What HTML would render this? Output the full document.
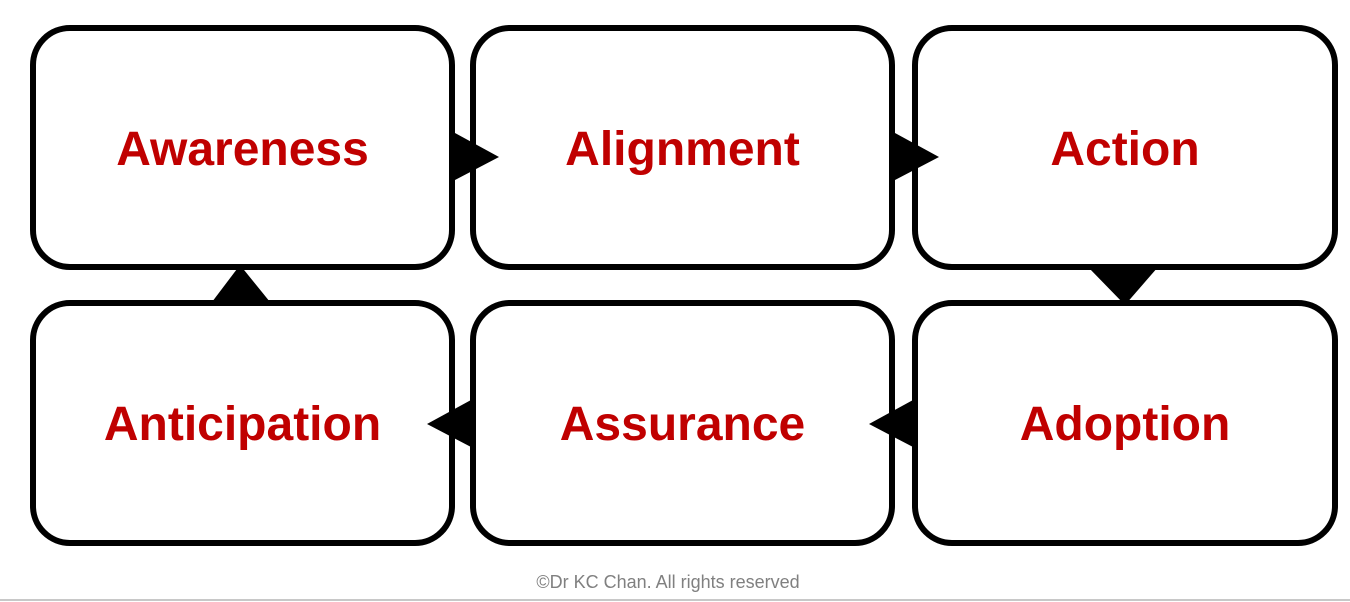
<!DOCTYPE html>
<html><head><style>
body{margin:0;width:1350px;height:602px;background:#fff;position:relative;overflow:hidden;font-family:"Liberation Sans",sans-serif}
.b{position:absolute;box-sizing:border-box;border:6px solid #000;border-radius:40px;background:#fff;display:flex;align-items:center;justify-content:center;color:#c00000;font-weight:bold;font-size:48px;padding-top:3px}
.ft{position:absolute;left:0;width:1336px;top:572px;text-align:center;color:#808080;font-size:18px}
</style></head><body>
<div class="b" style="left:30px;top:25px;width:425px;height:245px">Awareness</div>
<div class="b" style="left:470px;top:25px;width:425px;height:245px">Alignment</div>
<div class="b" style="left:912px;top:25px;width:426px;height:245px">Action</div>
<div class="b" style="left:30px;top:300px;width:425px;height:246px">Anticipation</div>
<div class="b" style="left:470px;top:300px;width:425px;height:246px">Assurance</div>
<div class="b" style="left:912px;top:300px;width:426px;height:246px">Adoption</div>
<svg width="1350" height="602" style="position:absolute;left:0;top:0">
<polygon points="455,133 499,157 455,180" fill="#000"/>
<polygon points="895,133 939,157 895,180" fill="#000"/>
<polygon points="1088,267 1158,267 1125,305" fill="#000"/>
<polygon points="913,400 869,424 913,447" fill="#000"/>
<polygon points="471,400 427,424 471,447" fill="#000"/>
<polygon points="212,302 270,302 240,265" fill="#000"/>
<line x1="0" y1="600" x2="1350" y2="600" stroke="#c8c8c8" stroke-width="2"/>
</svg>
<div class="ft">©Dr KC Chan. All rights reserved</div>
</body></html>
